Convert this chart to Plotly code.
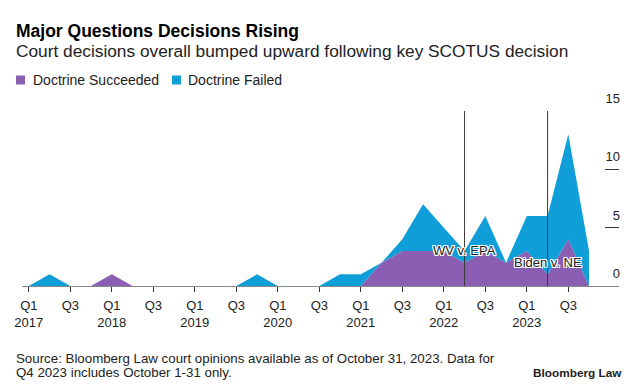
import plotly.graph_objects as go

# ---- data ----
quarters = ["Q1 2017","Q2 2017","Q3 2017","Q4 2017","Q1 2018","Q2 2018","Q3 2018","Q4 2018",
            "Q1 2019","Q2 2019","Q3 2019","Q4 2019","Q1 2020","Q2 2020","Q3 2020","Q4 2020",
            "Q1 2021","Q2 2021","Q3 2021","Q4 2021","Q1 2022","Q2 2022","Q3 2022","Q4 2022",
            "Q1 2023","Q2 2023","Q3 2023","Q4 2023"]
succeeded = [0,0,0,0,1,0,0,0,0,0,0,0,0,0,0,0,0,2,3,3,3,2,3,2,3,1,4,0]
failed    = [0,1,0,0,0,0,0,0,0,0,0,1,0,0,0,1,1,0,1,4,2,1,3,0,3,5,9,3]
tick_quarters = ["Q1 2017","Q3 2017","Q1 2018","Q3 2018","Q1 2019","Q3 2019","Q1 2020",
                 "Q3 2020","Q1 2021","Q3 2021","Q1 2022","Q3 2022","Q1 2023","Q3 2023"]
tick_labels = ["Q1<br>2017","Q3","Q1<br>2018","Q3","Q1<br>2019","Q3","Q1<br>2020",
               "Q3","Q1<br>2021","Q3","Q1<br>2022","Q3","Q1<br>2023","Q3"]
events = ["Q2 2022", "Q2 2023"]
event_labels = ["WV v. EPA", "Biden v. NE"]
event_label_y = [3.05, 2.05]
y_ticks = [0, 5, 10, 15]

PURPLE = "#8a5eb2"
BLUE = "#109ed9"
FONT = "Liberation Sans, Arial, sans-serif"

xi = list(range(len(quarters)))
pos = {q: i for i, q in enumerate(quarters)}

fig = go.Figure()
fig.add_trace(go.Scatter(x=xi, y=succeeded, name="Doctrine Succeeded", mode="lines",
                         stackgroup="one", line=dict(width=0, color=PURPLE),
                         fillcolor=PURPLE, showlegend=False, hoverinfo="skip"))
fig.add_trace(go.Scatter(x=xi, y=failed, name="Doctrine Failed", mode="lines",
                         stackgroup="one", line=dict(width=0, color=BLUE),
                         fillcolor=BLUE, showlegend=False, hoverinfo="skip"))

W, H = 633, 392
L, R, T, B = 22, 14, 111, 106
PW, PH = W - L - R, H - T - B

def px(x):
    return (x - L) / PW

def py(y):
    return (H - B - y) / PH

HALO = ("-1px -1px 0 #fff, 1px -1px 0 #fff, -1px 1px 0 #fff, 1px 1px 0 #fff, "
        "0 1px 0 #fff, 0 -1px 0 #fff, 1px 0 0 #fff, -1px 0 0 #fff")

shapes = []
annotations = []
for ev, lab, ly in zip(events, event_labels, event_label_y):
    shapes.append(dict(type="line", xref="x", yref="y", x0=pos[ev], x1=pos[ev], y0=0, y1=15,
                       line=dict(color="#3a3a3a", width=1), layer="above"))
    annotations.append(dict(x=pos[ev], y=ly, xref="x", yref="y", text=lab, showarrow=False,
                            xanchor="center", yanchor="middle",
                            font=dict(size=13, color="#222", family=FONT, shadow=HALO)))

# title, subtitle
annotations.append(dict(x=px(14), y=py(30.5), xref="paper", yref="paper", xanchor="left", yanchor="middle",
                        text="<b>Major Questions Decisions Rising</b>", showarrow=False,
                        font=dict(size=17.5, color="#000", family=FONT)))
annotations.append(dict(x=px(14), y=py(51), xref="paper", yref="paper", xanchor="left", yanchor="middle",
                        text="Court decisions overall bumped upward following key SCOTUS decision", showarrow=False,
                        font=dict(size=17.3, color="#222", family=FONT)))
# legend
for (x0, col, label, tx) in [(16, PURPLE, "Doctrine Succeeded", 31), (172, BLUE, "Doctrine Failed", 186)]:
    shapes.append(dict(type="rect", xref="paper", yref="paper", x0=px(x0), x1=px(x0 + 9),
                       y0=py(84.5), y1=py(75.5), fillcolor=col, line=dict(width=0)))
    annotations.append(dict(x=px(tx), y=py(80), xref="paper", yref="paper", xanchor="left", yanchor="middle",
                            text=label, showarrow=False, font=dict(size=14, color="#222", family=FONT)))
# source
annotations.append(dict(x=px(14), y=py(358), xref="paper", yref="paper", xanchor="left", yanchor="middle",
                        text="Source: Bloomberg Law court opinions available as of October 31, 2023. Data for",
                        showarrow=False, font=dict(size=13.3, color="#222", family=FONT)))
annotations.append(dict(x=px(14), y=py(372.5), xref="paper", yref="paper", xanchor="left", yanchor="middle",
                        text="Q4 2023 includes October 1-31 only.",
                        showarrow=False, font=dict(size=13.3, color="#222", family=FONT)))
annotations.append(dict(x=px(624), y=py(373), xref="paper", yref="paper", xanchor="right", yanchor="middle",
                        text="<b>Bloomberg Law</b>",
                        showarrow=False, font=dict(size=11.8, color="#222", family=FONT)))

x0r = -6.8 / 20.75
fig.update_layout(
    width=W, height=H, margin=dict(l=L, r=R, t=T, b=B),
    paper_bgcolor="white", plot_bgcolor="white",
    font=dict(family=FONT, color="#222"),
    showlegend=False,
    shapes=shapes, annotations=annotations,
    xaxis=dict(range=[x0r, x0r + PW / 20.75], tickvals=[pos[q] for q in tick_quarters], ticktext=tick_labels,
               ticks="outside", ticklen=5, tickcolor="#333", tickwidth=1,
               showline=True, linecolor="#888", linewidth=1, showgrid=False, zeroline=False,
               ticklabelstandoff=2,
               tickfont=dict(size=13, color="#222")),
    yaxis=dict(range=[0, 15], tickvals=y_ticks, side="right", ticks="inside", ticklen=14,
               tickcolor="#333", tickwidth=1, ticklabelposition="inside top",
               ticklabeloverflow="allow", ticklabelstandoff=-4, ticklabelshift=-3,
               showgrid=False, zeroline=False, showline=False,
               tickfont=dict(size=13, color="#222")),
)
fig.write_html("out.html", config={"displayModeBar": False},
               post_script="document.body.style.margin='0';")
